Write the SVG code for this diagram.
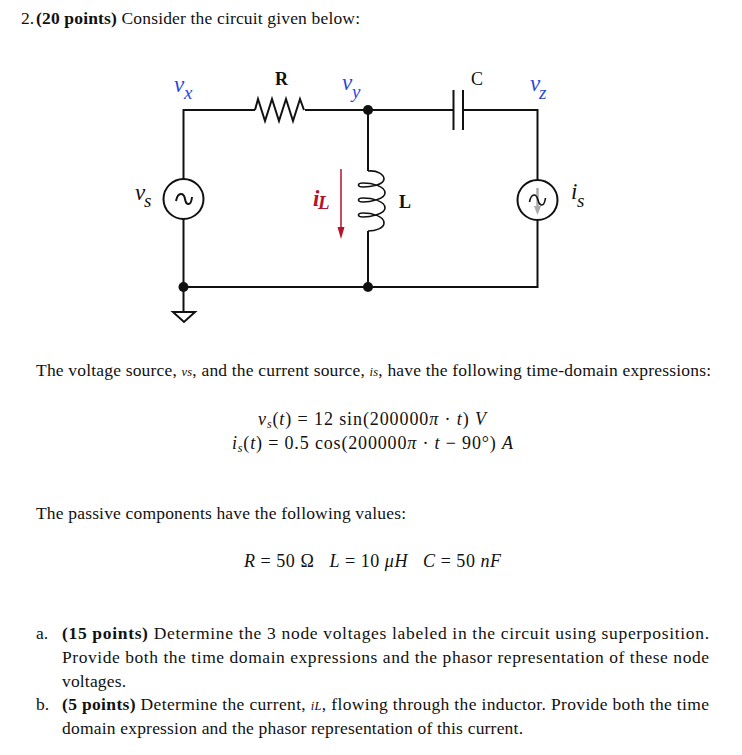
<svg xmlns="http://www.w3.org/2000/svg" width="742" height="755" viewBox="0 0 742 755">
<style>
text{font-family:"Liberation Serif","Times New Roman",serif;fill:#111}
.t{font-size:17.5px}
.w{fill:none;stroke:#111;stroke-width:2}
.thin{fill:none;stroke:#111;stroke-width:1.6}
.lab{font-size:23px;font-style:italic}
.sub{font-size:19px;font-style:italic}
.blue{fill:#2b47e0}
.red{fill:#b5122b}
.comp{font-size:18px}
.m{font-size:18px}
.mi{font-size:12.500px;font-style:italic}
.dot{fill:#111}
</style>
<rect width="742" height="755" fill="#fff"/>
<g id="connectors">
<path class="w" d="M183.500 179V110H255M305 110H453.500M463 110H537.500V180M537.500 220V287H183.500V219M368 110V171M368 231V287M183.500 287V312"/>
<path d="M341 169V228" fill="none" stroke="#b5122b" stroke-width="1.500"/>
<path d="M337.500 227H344.500L341 239Z" fill="#b5122b"/>
</g>
<g id="node-R"><path class="w" d="M255 110L258 99L265 121L272 99L279 121L286 99L293 121L300 99L304 110"/></g>
<g id="node-C"><path class="w" d="M453.500 90V130M463 90V130"/></g>
<g id="node-L"><path class="thin" d="M368 171C378 170 384 175 384 179C384 185 370 187 363 187C357 187 357 183 363 183C372 183 385 186 385 193C385 199 370 202 363 202C357 202 357 198 363 198C372 198 385 201 385 208C385 214 370 217 363 217C357 217 357 213 363 213C372 213 384 216 384 223C384 228 376 231 368 231"/></g>
<g id="node-vs"><circle class="w" cx="183.500" cy="199" r="20"/><path class="w" d="M176 201C178 191 184 193 185 199C186 205 191 207 192 197"/></g>
<g id="node-is"><circle class="w" cx="537.500" cy="200" r="20"/><path d="M537.500 188V208" stroke="#aaa" stroke-width="2.500" fill="none"/><path d="M534 206H541L537.500 215Z" fill="#aaa"/><path class="thin" d="M529.500 202C531.500 192 536.500 194 538 200C539.500 206 544 208 545.500 198"/></g>
<g id="node-ground"><path class="w" d="M173 312H195L184 322Z"/></g>
<g id="node-vy-dot"><circle class="dot" cx="368" cy="110" r="5"/></g>
<g id="node-bottom-dot"><circle class="dot" cx="368" cy="287" r="5"/></g>
<g id="node-ground-dot"><circle class="dot" cx="183.500" cy="287" r="5"/></g>

<g id="labels">
<text class="comp" x="275" y="85" font-weight="bold">R</text>
<text class="comp" x="471" y="85">C</text>
<text class="comp" x="399" y="208" font-weight="bold">L</text>
<text class="lab blue" x="174" y="92">v</text><text class="sub blue" x="184" y="99">x</text>
<text class="lab blue" x="342" y="90">v</text><text class="sub blue" x="352" y="98">y</text>
<text class="lab blue" x="530" y="91">v</text><text class="sub blue" x="539" y="99">z</text>
<text class="lab" x="135" y="200">v</text><text class="sub" x="144" y="207">s</text>
<text class="lab" x="571" y="199">i</text><text class="sub" x="577" y="207">s</text>
<text class="lab red" x="313" y="206" font-size="20" font-weight="bold">i</text><text class="sub red" x="318" y="209" font-size="15" font-weight="bold">L</text>
</g>
<g id="text">
<text class="t" x="21" y="24">2.</text>
<text class="t" x="36" y="24" textLength="324"><tspan font-weight="bold">(20 points)</tspan> Consider the circuit given below:</text>
<text class="t" x="36" y="376" textLength="675">The voltage source, <tspan class="mi">vs</tspan>, and the current source, <tspan class="mi">is</tspan>, have the following time-domain expressions:</text>
<text class="m" x="258" y="425" textLength="228" font-style="italic">v<tspan font-size="12" dy="3">s</tspan><tspan dy="-3" font-style="normal">(</tspan>t<tspan font-style="normal">) = 12 sin(200000</tspan>π<tspan font-style="normal"> · </tspan>t<tspan font-style="normal">) </tspan>V</text>
<text class="m" x="232" y="449" textLength="281" font-style="italic">i<tspan font-size="12" dy="3">s</tspan><tspan dy="-3" font-style="normal">(</tspan>t<tspan font-style="normal">) = 0.5 cos(200000</tspan>π<tspan font-style="normal"> · </tspan>t<tspan font-style="normal"> − 90°) </tspan>A</text>
<text class="t" x="36" y="519" textLength="370">The passive components have the following values:</text>
<text class="m" x="244" y="567" textLength="257" xml:space="preserve" font-style="italic">R<tspan font-style="normal"> = 50 Ω   </tspan>L<tspan font-style="normal"> = 10 </tspan>μH<tspan font-style="normal">   </tspan>C<tspan font-style="normal"> = 50 </tspan>nF</text>
<text class="t" x="36" y="639">a.</text>
<text class="t" x="62" y="639" textLength="647"><tspan font-weight="bold">(15 points)</tspan> Determine the 3 node voltages labeled in the circuit using superposition.</text>
<text class="t" x="62" y="663" textLength="647">Provide both the time domain expressions and the phasor representation of these node</text>
<text class="t" x="62" y="687" textLength="64">voltages.</text>
<text class="t" x="36" y="710">b.</text>
<text class="t" x="62" y="710" textLength="647"><tspan font-weight="bold">(5 points)</tspan> Determine the current, <tspan class="mi">iL</tspan>, flowing through the inductor. Provide both the time</text>
<text class="t" x="62" y="734" textLength="461">domain expression and the phasor representation of this current.</text>
</g>
</svg>
